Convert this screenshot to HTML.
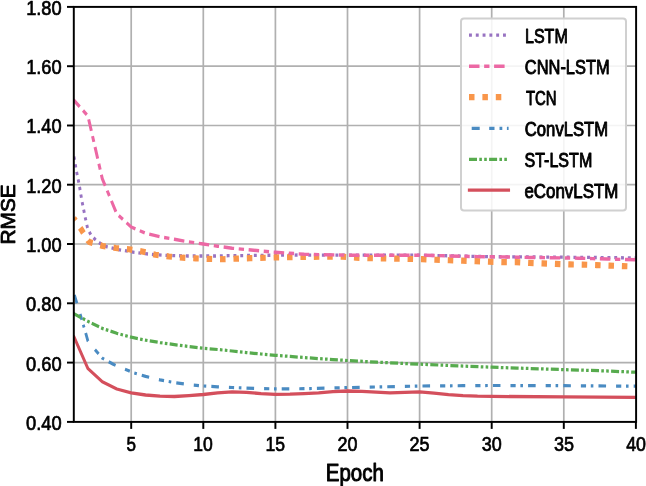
<!DOCTYPE html>
<html lang="en"><head><meta charset="utf-8"><title>RMSE vs Epoch</title>
<style>html,body{margin:0;padding:0;background:#fff;}svg{display:block;}text{font-family:"Liberation Sans",sans-serif;fill:#000;}</style>
</head><body>
<svg width="646" height="486" viewBox="0 0 646 486">
<rect x="0" y="0" width="646" height="486" fill="#ffffff"/>
<g stroke="#b0b0b0" stroke-width="1.7" fill="none">
<line x1="131.2" y1="6.9" x2="131.2" y2="421.9"/>
<line x1="203.3" y1="6.9" x2="203.3" y2="421.9"/>
<line x1="275.4" y1="6.9" x2="275.4" y2="421.9"/>
<line x1="347.5" y1="6.9" x2="347.5" y2="421.9"/>
<line x1="419.6" y1="6.9" x2="419.6" y2="421.9"/>
<line x1="491.7" y1="6.9" x2="491.7" y2="421.9"/>
<line x1="563.8" y1="6.9" x2="563.8" y2="421.9"/>
<line x1="73.8" y1="362.6" x2="636.1" y2="362.6"/>
<line x1="73.8" y1="303.3" x2="636.1" y2="303.3"/>
<line x1="73.8" y1="244.0" x2="636.1" y2="244.0"/>
<line x1="73.8" y1="184.7" x2="636.1" y2="184.7"/>
<line x1="73.8" y1="125.5" x2="636.1" y2="125.5"/>
<line x1="73.8" y1="66.2" x2="636.1" y2="66.2"/>
</g>
<defs><clipPath id="ax"><rect x="73.8" y="6.9" width="562.3" height="415.0"/></clipPath></defs>
<g clip-path="url(#ax)">
<g transform="scale(1,1.14)" fill="none" stroke-linejoin="round">
<polyline points="73.7,135.88 76.2,148.86 79.2,161.93 81.9,176.23 85.4,191.49 87.8,201.05 91.0,206.23 96.0,210.88 103.4,215.44 107.2,216.49 117.0,218.68 134.4,221.40 148.0,222.81 161.6,223.86 174.0,224.21 187.6,224.56 214.9,224.56 228.5,224.30 275.0,223.86 300.0,223.68 348.0,223.86 420.0,223.86 491.5,225.18 564.0,225.61 635.9,226.23" stroke="#9873c2" stroke-width="2.9" stroke-dasharray="2.9 3.9" stroke-dashoffset="5.3"/>
<polyline points="73.7,191.23 81.9,202.11 87.9,210.96 89.3,212.28 102.7,215.79 115.8,217.54 129.0,218.68 142.3,220.61 155.5,223.42 169.0,225.00 182.7,226.05 195.8,226.67 209.2,227.11 222.8,227.37 236.0,226.93 250.0,226.49 275.5,225.79 302.0,225.44 324.0,225.18 342.5,225.18 356.0,226.05 369.0,226.49 382.6,226.67 396.0,226.93 409.0,227.11 422.0,227.37 435.0,227.81 449.0,228.25 462.6,228.68 475.7,229.12 488.6,229.56 502.8,229.91 516.0,229.91 529.5,230.61 542.4,231.05 556.0,231.49 569.7,231.93 582.8,232.11 596.4,232.54 609.3,232.98 623.0,233.42 635.9,233.86" stroke="#f9964a" stroke-width="5.4" stroke-dasharray="5.5 7.9" stroke-dashoffset="2.6"/>
<polyline points="73.5,87.54 87.9,101.67 102.3,156.84 116.8,187.63 131.2,199.12 145.6,204.65 160.0,207.72 174.4,209.91 188.9,212.19 203.3,214.04 217.7,215.96 232.1,217.72 246.5,218.95 261.0,220.18 275.4,221.32 289.8,222.19 304.2,222.98 318.6,223.33 333.1,223.60 347.5,223.86 361.9,223.86 376.3,223.86 390.7,223.86 405.2,223.86 419.6,223.86 434.0,224.12 448.4,224.47 462.8,224.82 477.3,225.09 491.7,225.26 506.1,225.44 520.5,225.70 534.9,225.88 549.4,226.05 563.8,226.23 578.2,226.49 592.6,226.84 607.0,227.19 621.5,227.54 635.9,227.81" stroke="#ec68a4" stroke-width="3.0" stroke-dasharray="10.5 4.65 5.3 4.65" stroke-dashoffset="1.8"/>
<polyline points="74.0,257.63 81.1,278.25 86.1,293.51 87.9,299.12 94.8,306.49 102.3,314.12 113.3,319.56 116.8,321.05 128.2,325.00 131.2,326.32 145.6,330.18 160.0,333.25 174.4,335.61 188.9,337.37 203.3,338.60 217.7,339.30 232.1,339.91 246.5,340.44 261.0,340.88 275.4,341.14 304.0,340.96 333.0,340.35 347.5,340.00 376.0,339.47 419.6,338.60 463.0,338.33 491.7,338.16 563.8,338.33 635.9,338.77" stroke="#4a8bc2" stroke-width="2.8" stroke-dasharray="7.6 10 5.2 4.7 2.6 5.1" stroke-dashoffset="33.9"/>
<polyline points="73.5,275.00 87.9,281.84 102.3,288.07 116.8,292.37 131.2,295.79 145.6,298.42 160.0,300.53 174.4,302.28 188.9,303.95 203.3,305.44 217.7,306.58 232.1,307.89 246.5,309.30 261.0,310.53 275.4,311.67 290.0,312.63 304.0,313.60 318.6,314.56 333.0,315.44 347.5,316.23 377.0,317.72 419.6,319.47 459.0,320.96 491.7,322.11 517.0,322.89 563.8,324.21 604.0,325.35 635.9,326.49" stroke="#57ab4e" stroke-width="2.85" stroke-dasharray="8 2.3 2.6 2.3 2.6 2.3" stroke-dashoffset="0"/>
<polyline points="73.5,294.56 87.9,323.25 102.3,334.82 116.8,341.23 131.2,344.65 145.6,346.49 160.0,347.46 174.4,347.81 188.9,347.02 203.3,346.05 217.7,344.56 232.1,343.77 246.5,344.12 261.0,345.35 275.4,345.96 290.0,345.79 304.0,345.26 318.6,344.56 333.0,343.51 347.5,342.98 362.0,343.33 376.0,344.04 390.0,344.65 405.0,344.21 419.6,343.77 434.0,344.91 448.5,346.14 463.0,347.02 477.5,347.54 491.7,347.72 563.8,348.16 635.9,348.60" stroke="#d44f5c" stroke-width="2.9"/>
</g>
</g>
<rect x="73.8" y="6.9" width="562.3" height="415.0" fill="none" stroke="#000" stroke-width="1.95"/>
<g stroke="#000" stroke-width="1.95">
<line x1="131.2" y1="421.9" x2="131.2" y2="428.9"/>
<line x1="203.3" y1="421.9" x2="203.3" y2="428.9"/>
<line x1="275.4" y1="421.9" x2="275.4" y2="428.9"/>
<line x1="347.5" y1="421.9" x2="347.5" y2="428.9"/>
<line x1="419.6" y1="421.9" x2="419.6" y2="428.9"/>
<line x1="491.7" y1="421.9" x2="491.7" y2="428.9"/>
<line x1="563.8" y1="421.9" x2="563.8" y2="428.9"/>
<line x1="635.9" y1="421.9" x2="635.9" y2="428.9"/>
<line x1="67.0" y1="421.9" x2="73.8" y2="421.9"/>
<line x1="67.0" y1="362.6" x2="73.8" y2="362.6"/>
<line x1="67.0" y1="303.3" x2="73.8" y2="303.3"/>
<line x1="67.0" y1="244.0" x2="73.8" y2="244.0"/>
<line x1="67.0" y1="184.7" x2="73.8" y2="184.7"/>
<line x1="67.0" y1="125.5" x2="73.8" y2="125.5"/>
<line x1="67.0" y1="66.2" x2="73.8" y2="66.2"/>
<line x1="67.0" y1="6.9" x2="73.8" y2="6.9"/>
</g>
<g stroke="#000" stroke-width="0.7" stroke-linejoin="round">
<text transform="translate(126.55,451.3) scale(0.834,1)" font-size="20.5" stroke-width="0.7">5</text>
<text transform="translate(193.30,451.3) scale(0.856,1)" font-size="20.5" stroke-width="0.7">10</text>
<text transform="translate(265.39,451.3) scale(0.859,1)" font-size="20.5" stroke-width="0.7">15</text>
<text transform="translate(337.48,451.3) scale(0.877,1)" font-size="20.5" stroke-width="0.7">20</text>
<text transform="translate(409.58,451.3) scale(0.880,1)" font-size="20.5" stroke-width="0.7">25</text>
<text transform="translate(481.80,451.3) scale(0.877,1)" font-size="20.5" stroke-width="0.7">30</text>
<text transform="translate(553.90,451.3) scale(0.879,1)" font-size="20.5" stroke-width="0.7">35</text>
<text transform="translate(626.22,451.3) scale(0.869,1)" font-size="20.5" stroke-width="0.7">40</text>
<text transform="translate(26.04,429.8) scale(0.893,1)" font-size="20.5" stroke-width="0.7">0.40</text>
<text transform="translate(26.04,370.5) scale(0.893,1)" font-size="20.5" stroke-width="0.7">0.60</text>
<text transform="translate(26.04,311.2) scale(0.893,1)" font-size="20.5" stroke-width="0.7">0.80</text>
<text transform="translate(26.16,251.9) scale(0.890,1)" font-size="20.5" stroke-width="0.7">1.00</text>
<text transform="translate(26.16,192.6) scale(0.890,1)" font-size="20.5" stroke-width="0.7">1.20</text>
<text transform="translate(26.16,133.4) scale(0.890,1)" font-size="20.5" stroke-width="0.7">1.40</text>
<text transform="translate(26.16,74.1) scale(0.890,1)" font-size="20.5" stroke-width="0.7">1.60</text>
<text transform="translate(26.16,14.8) scale(0.890,1)" font-size="20.5" stroke-width="0.7">1.80</text>
<text transform="translate(325.82,480.9) scale(0.874,1)" font-size="23.4" stroke-width="1.0">Epoch</text>
<text transform="translate(14.8,244.46) rotate(-90) scale(1.002,1)" font-size="20.8" stroke-width="0.85">RMSE</text>
</g>
<rect x="461" y="18.4" width="165" height="192.2" rx="3" ry="3" fill="#ffffff" fill-opacity="0.86" stroke="#d0d0d0" stroke-width="2.0"/>
<g fill="none" transform="scale(1,1.14)">
<line x1="469.0" y1="30.79" x2="508.6" y2="30.79" stroke="#9873c2" stroke-width="2.9" stroke-dasharray="2.9 3.9"/>
<line x1="469.0" y1="58.16" x2="508.6" y2="58.16" stroke="#ec68a4" stroke-width="3.0" stroke-dasharray="10.5 4.65 5.3 4.65"/>
<line x1="469.0" y1="85.26" x2="508.6" y2="85.26" stroke="#f9964a" stroke-width="5.4" stroke-dasharray="5.5 7.9"/>
<line x1="469.0" y1="112.54" x2="508.6" y2="112.54" stroke="#4a8bc2" stroke-width="2.8" stroke-dasharray="0 2.7 8 9.5 5.3 5 2.8 4.6 2.1 100"/>
<line x1="469.0" y1="139.74" x2="508.6" y2="139.74" stroke="#57ab4e" stroke-width="2.85" stroke-dasharray="8 2.3 2.6 2.3 2.6 2.3"/>
<line x1="469.3" y1="166.84" x2="508.6" y2="166.84" stroke="#d44f5c" stroke-width="2.9" stroke-linecap="square"/>
</g>
<g stroke="#000" stroke-width="0.7" stroke-linejoin="round">
<text transform="translate(524.96,42.9) scale(0.784,1)" font-size="20.5" stroke-width="0.95">LSTM</text>
<text transform="translate(524.84,74.1) scale(0.801,1)" font-size="20.5" stroke-width="0.95">CNN-LSTM</text>
<text transform="translate(525.95,105.0) scale(0.728,1)" font-size="20.5" stroke-width="0.95">TCN</text>
<text transform="translate(524.82,136.1) scale(0.813,1)" font-size="20.5" stroke-width="0.95">ConvLSTM</text>
<text transform="translate(524.44,167.1) scale(0.784,1)" font-size="20.5" stroke-width="0.95">ST-LSTM</text>
<text transform="translate(524.47,198.0) scale(0.824,1)" font-size="20.5" stroke-width="0.95">eConvLSTM</text>
</g>
</svg>
</body></html>
